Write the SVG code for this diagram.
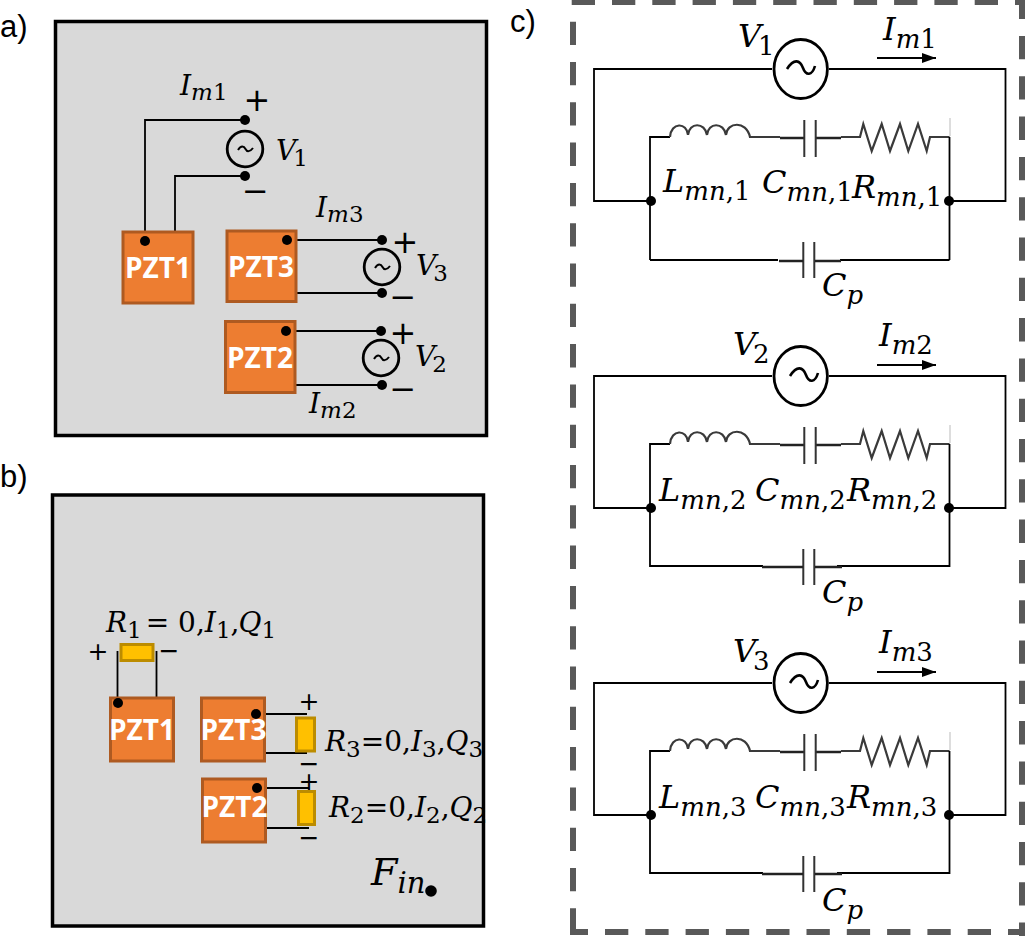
<svg xmlns="http://www.w3.org/2000/svg" width="1025" height="936" viewBox="0 0 1025 936">
<style>
.panel{fill:#d9d9d9;stroke:#000;stroke-width:3.5}
.pzt{fill:#ed7d31;stroke:#ae5a21;stroke-width:3}
.pt{font-family:"Open Sans","Noto Sans",sans-serif;font-weight:700;font-size:28px;fill:#fff;text-anchor:middle}
.res{fill:#ffc000;stroke:#bc8c00;stroke-width:3}
.w{fill:none;stroke:#000;stroke-width:1.8}
.src{fill:none;stroke:#000;stroke-width:2.8}
.t{fill:none;stroke:#000;stroke-width:2.6}
.t2{fill:none;stroke:#000;stroke-width:2}
.d{fill:#000}
.sg{font-family:"DejaVu Sans",sans-serif;font-size:32px;text-anchor:middle;fill:#000}
.sm{font-size:25px}
.m{font-family:"DejaVu Serif",serif;font-style:italic;font-size:32px;fill:#000}
.a{font-size:28px}
.b{font-size:28px}
.s{font-size:26px}
.s2{font-size:23px}
.n{font-style:normal}
.f{font-size:38px}
.fs{font-size:29px}
.lbl{font-family:"Liberation Sans",Arial,sans-serif;font-size:31px;fill:#000}
.dash{fill:none;stroke:#595959;stroke-width:6;stroke-dasharray:23.3 17}
.gw{fill:none;stroke:#3a3a3a;stroke-width:2.2}
.pl{fill:none;stroke:#333;stroke-width:2}
.ld{fill:none;stroke:#222;stroke-width:2.6}
</style>
<defs>
<marker id="ah" markerWidth="14" markerHeight="10" refX="14" refY="5" orient="auto" markerUnits="userSpaceOnUse"><path d="M0 0L14 5L0 10Z" fill="#000"/></marker>
<g id="core">
<path class="w" d="M772 69H594V201H651M829 69H1005.500V201H949"/>
<ellipse class="src" cx="800.700" cy="69" rx="26.700" ry="29.500"/>
<path class="w" d="M877 58H936" marker-end="url(#ah)"/>
<path class="w" d="M670 137H650V260"/>
<path class="gw" d="M670 137C671 122 687 122 688 135C689 122 705 122 707 135C708 122 724 122 726 135C727 122 746 120 750 137H780"/>
<path class="ld" d="M780 138H804M816 138H841"/>
<path class="pl" d="M804.300 120V157M815.700 120V157"/>
<path class="gw" d="M841 137H860L863.300 124L871.700 151L881.700 124L890 151L900 124L908.300 151L918 124L926.700 151L930 137H949.500"/>
<path class="w" d="M949.500 137V260"/>
<path stroke="#bbb" stroke-width="1" fill="none" d="M950 118V136"/>
<circle class="d" cx="651" cy="201" r="5"/>
<circle class="d" cx="949" cy="201" r="5"/>
<path class="pl" d="M803.300 242V278M814.300 242V278"/>
</g>
</defs>

<g id="panel-a">
<rect class="panel" x="55.500" y="21.500" width="431" height="414"/>
<text class="lbl" x="0" y="37">a)</text>
</g>
<g id="panel-b">
<rect class="panel" x="52.500" y="495" width="431" height="431"/>
<text class="lbl" x="0" y="487">b)</text>
</g>

<g id="connectors">
<path class="w" d="M145 241V120H245M175 235V176H245"/>
<path class="w" d="M287 240H382M296 293H382M286 331H381M296 385H382"/>
<path class="w" d="M117.500 651V703M156.500 651V703"/>
<path class="w" d="M256 714H307M256 753H307M257 788H309M257 828H309"/>
</g>

<g id="pzt1-a"><rect class="pzt" x="123" y="232" width="70" height="71"/><text class="pt" x="158" y="278">PZT1</text></g>
<g id="pzt3-a"><rect class="pzt" x="227" y="231" width="69" height="70.500"/><text class="pt" x="261" y="277">PZT3</text></g>
<g id="pzt2-a"><rect class="pzt" x="225.500" y="321.500" width="69.500" height="71"/><text class="pt" x="260" y="368">PZT2</text></g>

<g id="source-v1-a">
<circle class="d" cx="145" cy="241" r="5"/><circle class="d" cx="245" cy="120" r="5"/><circle class="d" cx="245" cy="176" r="5"/>
<circle class="src" cx="245" cy="149" r="17.800"/>
<path class="t2" d="M238 150C241 145 244 146 245.500 149C247 152 250 152 253 148"/>
<text class="sg" x="257" y="111">+</text><text class="sg" x="255.500" y="202">−</text>
<text class="m a" x="180" y="95">I<tspan class="s2" dy="5">m</tspan><tspan class="n s2">1</tspan></text>
<text class="m a" x="276" y="160">V<tspan class="n s2" dx="-3" dy="6">1</tspan></text>
</g>
<g id="source-v3-a">
<circle class="d" cx="287" cy="240" r="5"/><circle class="d" cx="382" cy="240" r="5"/><circle class="d" cx="382" cy="293" r="5"/>
<circle class="src" cx="382" cy="267" r="17.800"/>
<path class="t2" d="M375 268C378 263 381 264 382.500 267C384 270 387 270 390 266"/>
<text class="sg" x="405" y="253">+</text><text class="sg" x="403" y="308">−</text>
<text class="m a" x="316" y="217">I<tspan class="s2" dy="5">m</tspan><tspan class="n s2">3</tspan></text>
<text class="m a" x="416" y="275">V<tspan class="n s2" dx="-3" dy="6">3</tspan></text>
</g>
<g id="source-v2-a">
<circle class="d" cx="286" cy="331" r="5"/><circle class="d" cx="381" cy="331" r="5"/><circle class="d" cx="382" cy="385" r="5"/>
<circle class="src" cx="381" cy="358" r="17.800"/>
<path class="t2" d="M374 359C377 354 380 355 381.500 358C383 361 386 361 389 357"/>
<text class="sg" x="403" y="344">+</text><text class="sg" x="403" y="400">−</text>
<text class="m a" x="309" y="413">I<tspan class="s2" dy="5">m</tspan><tspan class="n s2">2</tspan></text>
<text class="m a" x="415" y="366">V<tspan class="n s2" dx="-3" dy="6">2</tspan></text>
</g>

<g id="pzt1-b"><rect class="pzt" x="110.500" y="698" width="63" height="63"/><text class="pt" x="142" y="740">PZT1</text></g>
<g id="pzt3-b"><rect class="pzt" x="201.500" y="698" width="63" height="63"/><text class="pt" x="233.500" y="740">PZT3</text></g>
<g id="pzt2-b"><rect class="pzt" x="202.500" y="779" width="63" height="63"/><text class="pt" x="234.500" y="817">PZT2</text></g>

<g id="resistor-1-b">
<rect class="res" x="121" y="644.500" width="32" height="16"/>
<circle class="d" cx="118" cy="703" r="5"/>
<text class="sg sm" x="98" y="660">+</text><text class="sg sm" x="169" y="659">−</text>
<text class="m b" x="106" y="632">R<tspan class="n s2" dy="6">1</tspan><tspan class="n" dx="4" dy="-6">= 0,</tspan><tspan dx="0">I</tspan><tspan class="n s2" dy="6">1</tspan><tspan class="n" dy="-6">,</tspan><tspan dx="-1">Q</tspan><tspan class="n s2" dy="6">1</tspan></text>
</g>
<g id="resistor-3-b">
<rect class="res" x="296.500" y="718" width="18" height="33"/>
<circle class="d" cx="256" cy="714" r="5"/>
<text class="sg sm" x="309" y="710">+</text><text class="sg sm" x="309" y="772">−</text>
<text class="m b" x="325" y="751">R<tspan class="n s2" dy="6">3</tspan><tspan class="n" dy="-6">=0,</tspan><tspan>I</tspan><tspan class="n s2" dy="6">3</tspan><tspan class="n" dy="-6">,</tspan><tspan>Q</tspan><tspan class="n s2" dy="6">3</tspan></text>
</g>
<g id="resistor-2-b">
<rect class="res" x="298.500" y="791.500" width="16" height="33"/>
<circle class="d" cx="257" cy="788" r="5"/>
<text class="sg sm" x="309" y="790">+</text><text class="sg sm" x="309" y="846">−</text>
<text class="m b" x="329" y="817">R<tspan class="n s2" dy="6">2</tspan><tspan class="n" dy="-6">=0,</tspan><tspan>I</tspan><tspan class="n s2" dy="6">2</tspan><tspan class="n" dy="-6">,</tspan><tspan>Q</tspan><tspan class="n s2" dy="6">2</tspan></text>
</g>
<g id="force-b">
<text class="m f" x="371" y="885">F<tspan class="fs" dy="8">in</tspan></text>
<circle class="d" cx="431" cy="891" r="5.800"/>
</g>

<g id="panel-c">
<text class="lbl" x="510" y="32">c)</text>
<path class="dash" d="M571.700 2H1025"/>
<path class="dash" d="M1022 -4.300V936"/>
<path class="dash" d="M573 21.700V932"/>
<path class="dash" d="M570 932H1025" stroke-dashoffset="5.300"/>
</g>

<g id="circuit-1">
<use href="#core"/>
<path class="w" d="M650 260H778M840 260H949.500"/>
<path class="ld" d="M779 261H803M815 261H841"/>
<path class="t" d="M787 69C794 58 800 60 803 68C806 76 812 76 815 66"/>
<text class="m" x="738" y="47">V<tspan class="n s" dx="-3" dy="8">1</tspan></text>
<text class="m" x="883" y="40">I<tspan class="s" dy="8">m</tspan><tspan class="n s">1</tspan></text>
<text class="m" x="663" y="192">L<tspan class="s" dy="8">mn</tspan><tspan class="n s">,1</tspan></text>
<text class="m" x="762" y="193">C<tspan class="s" dy="8">mn</tspan><tspan class="n s">,1</tspan></text>
<text class="m" x="852" y="198">R<tspan class="s" dy="8">mn</tspan><tspan class="n s">,1</tspan></text>
<text class="m" x="822" y="296">C<tspan class="s" dy="8">p</tspan></text>
</g>
<g id="circuit-2">
<use href="#core" y="307"/>
<path class="w" d="M650 566H763M837 566H949.500"/>
<path class="ld" d="M762 567H803M815 567H842"/>
<path class="t" d="M790 376C797 365 803 367 806 375C809 383 815 383 818 373"/>
<text class="m" x="733" y="355">V<tspan class="n s" dx="-3" dy="8">2</tspan></text>
<text class="m" x="879" y="346">I<tspan class="s" dy="8">m</tspan><tspan class="n s">2</tspan></text>
<text class="m" x="659" y="501">L<tspan class="s" dy="8">mn</tspan><tspan class="n s">,2</tspan></text>
<text class="m" x="755" y="501">C<tspan class="s" dy="8">mn</tspan><tspan class="n s">,2</tspan></text>
<text class="m" x="847" y="501">R<tspan class="s" dy="8">mn</tspan><tspan class="n s">,2</tspan></text>
<text class="m" x="822" y="603">C<tspan class="s" dy="8">p</tspan></text>
</g>
<g id="circuit-3">
<use href="#core" y="614"/>
<path class="w" d="M650 873H763M837 873H949.500"/>
<path class="ld" d="M762 874H803M815 874H842"/>
<path class="t" d="M790 683C797 672 803 674 806 682C809 690 815 690 818 680"/>
<text class="m" x="733" y="662">V<tspan class="n s" dx="-3" dy="8">3</tspan></text>
<text class="m" x="879" y="653">I<tspan class="s" dy="8">m</tspan><tspan class="n s">3</tspan></text>
<text class="m" x="659" y="808">L<tspan class="s" dy="8">mn</tspan><tspan class="n s">,3</tspan></text>
<text class="m" x="755" y="808">C<tspan class="s" dy="8">mn</tspan><tspan class="n s">,3</tspan></text>
<text class="m" x="847" y="808">R<tspan class="s" dy="8">mn</tspan><tspan class="n s">,3</tspan></text>
<text class="m" x="822" y="911">C<tspan class="s" dy="8">p</tspan></text>
</g>
</svg>
